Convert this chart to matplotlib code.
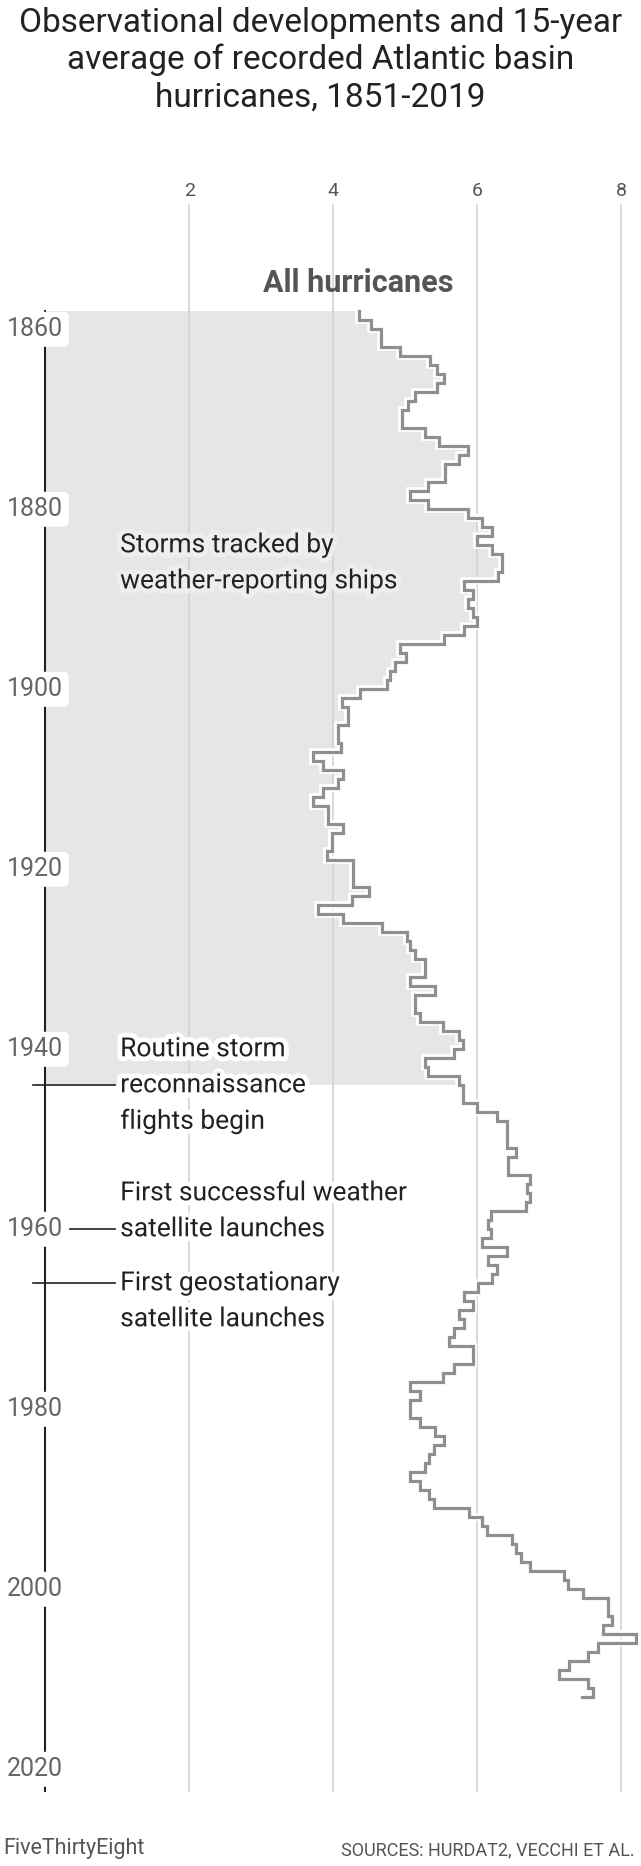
import numpy as np
import matplotlib
matplotlib.use("Agg")
import matplotlib.pyplot as plt
import matplotlib.patheffects as pe

plt.rcParams['font.family'] = ['Roboto', 'DejaVu Sans']

# ---------------------------------------------------------------
# data: 15-year running average of recorded hurricanes (centre year)
start_year = 1858
avg_hurricanes = [
    4.35, 4.52, 4.66, 4.66, 4.93, 5.34, 5.44, 5.54, 5.44, 5.13,   # 1858-
    5.04, 4.95, 4.95, 5.27, 5.47, 5.87, 5.75, 5.55, 5.55, 5.32,   # 1868-
    5.07, 5.32, 5.87, 6.07, 6.20, 6.00, 6.20, 6.34, 6.34, 6.29,   # 1878-
    5.81, 5.94, 5.87, 5.94, 6.00, 5.81, 5.54, 4.93, 5.01, 4.86,   # 1888-
    4.79, 4.74, 4.37, 4.12, 4.21, 4.21, 4.07, 4.07, 4.11, 3.72,   # 1898-
    3.86, 4.14, 4.07, 3.86, 3.72, 3.93, 3.93, 4.14, 3.98, 3.98,   # 1908-
    3.91, 4.28, 4.28, 4.28, 4.49, 4.26, 3.79, 4.14, 4.67, 5.02,   # 1918-
    5.07, 5.13, 5.27, 5.27, 5.07, 5.41, 5.13, 5.13, 5.20, 5.53,   # 1928-
    5.74, 5.80, 5.67, 5.27, 5.32, 5.74, 5.80, 5.80, 5.99, 6.27,   # 1938-
    6.41, 6.41, 6.41, 6.54, 6.42, 6.42, 6.73, 6.69, 6.73, 6.68,   # 1948-
    6.19, 6.15, 6.19, 6.07, 6.41, 6.15, 6.27, 6.20, 6.01, 5.81,   # 1958-
    5.94, 5.74, 5.81, 5.67, 5.60, 5.94, 5.94, 5.67, 5.53, 5.07,   # 1968-
    5.20, 5.07, 5.07, 5.20, 5.41, 5.54, 5.40, 5.33, 5.27, 5.07,   # 1978-
    5.20, 5.33, 5.40, 5.88, 6.07, 6.14, 6.48, 6.54, 6.60, 6.73,   # 1988-
    7.20, 7.26, 7.47, 7.81, 7.81, 7.87, 7.74, 8.20, 7.68, 7.54,   # 1998-
    7.28, 7.14, 7.54, 7.61, 7.45,                                 # 2008-2012
]
ships_end_year = 1944

value_ticks = [2, 4, 6, 8]
year_ticks = [1860, 1880, 1900, 1920, 1940, 1960, 1980, 2000, 2020]

ship_note = ["Storms tracked by", "weather-reporting ships"]
ship_note_year = 1884

milestone_years = [1944, 1960, 1966]
milestone_notes = [["Routine storm", "reconnaissance", "flights begin"],
                   ["First successful weather", "satellite launches"],
                   ["First geostationary", "satellite launches"]]
milestone_line_index = [1, 1, 0]   # which text line sits on the leader

series_label = "All hurricanes"
title_lines = ["Observational developments and 15-year",
               "average of recorded Atlantic basin",
               "hurricanes, 1851-2019"]
credit = "FiveThirtyEight"
source = "SOURCES: HURDAT2, VECCHI ET AL."

# ---------------------------------------------------------------
W, H = 641, 1866
X0, XS = 45.3, 72.0          # pixel of value 0, pixels per unit
Y0, YS = 329.3, 9.0          # pixel of 1860, pixels per year

fig = plt.figure(figsize=(W / 100, H / 100), dpi=100)
fig.patch.set_facecolor('white')
ax = fig.add_axes([0, 0, 1, 1])
ax.set_xlim(-X0 / XS, (W - X0) / XS)
ax.set_ylim(1860 + (H - Y0) / YS, 1860 - Y0 / YS)
ax.axis('off')

years = np.arange(start_year, start_year + len(avg_hurricanes))
vals = np.array(avg_hurricanes)

grid_top, grid_bottom = 1846.2, 2022.4

# vertical gridlines + top labels
for v in value_ticks:
    ax.plot([v, v], [grid_top, grid_bottom], color='#d0d0d0', lw=1.1, zorder=1)
    ax.text(v, 1844.6, str(v), ha='center', va='center', fontsize=14,
            color='#555555')

# shaded era of ship-based tracking
m = years <= ships_end_year
ax.fill_betweenx(years[m], 0, vals[m], step='post', color='#e6e6e6',
                 lw=0, zorder=0.5)

# the running average
ax.plot(vals, years, drawstyle='steps-pre', color='#8f8f8f', lw=2.3,
        solid_joinstyle='miter', zorder=4,
        path_effects=[pe.Stroke(linewidth=5.5, foreground='white'), pe.Normal()])

ax.text(4.34, 1854.9, series_label, ha='center', va='center', fontsize=22,
        fontweight='bold', color='#555555', zorder=5)

# time axis
ax.plot([0, 0], [start_year, grid_bottom], color='#222222', lw=1.5, zorder=3)
for y in year_ticks:
    ax.text(-0.14, y, str(y), ha='center', va='center', fontsize=18,
            color='#666666', zorder=6,
            bbox=dict(boxstyle='round,pad=0.22', fc='white', ec='none'))

# notes
halo_white = [pe.withStroke(linewidth=7, foreground='white')]
halo_grey = [pe.withStroke(linewidth=7, foreground='#eeeeee')]
for i, line in enumerate(ship_note):
    ax.text(1.04, ship_note_year + 4 * i, line, ha='left', va='center',
            fontsize=19, color='#222222', zorder=7, path_effects=halo_grey)

for yr, note, k in zip(milestone_years, milestone_notes, milestone_line_index):
    x_start = 0.34 if yr in year_ticks else -0.175
    ax.plot([x_start, 0.97], [yr, yr], color='#222222', lw=1.2, zorder=7)
    for i, line in enumerate(note):
        ax.text(1.04, yr + 4 * (i - k), line, ha='left', va='center',
                fontsize=19, color='#222222', zorder=7, path_effects=halo_white)

# title and footer
for line, base in zip(title_lines, [31.7, 69.2, 106.7]):
    fig.text(0.5, 1 - base / H, line, ha='center', va='baseline',
             fontsize=24, color='#222222')
fig.text(3 / W, 1 - 1854 / H, credit, ha='left', va='baseline',
         fontsize=15.5, color='#555555')
fig.text(635 / W, 1 - 1855 / H, source, ha='right', va='baseline',
         fontsize=13, color='#555555')

fig.savefig('out.png', dpi=100, facecolor='white')
